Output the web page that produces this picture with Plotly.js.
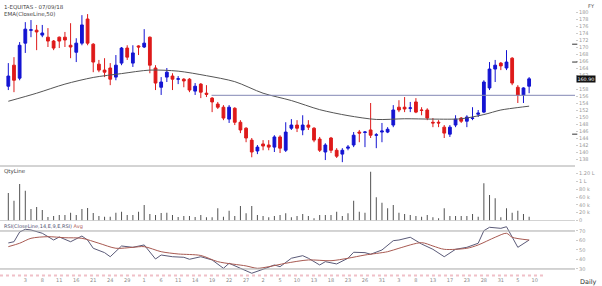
<!DOCTYPE html>
<html><head><meta charset="utf-8">
<script src="https://cdn.plot.ly/plotly-3.0.1.min.js"></script>
<style>html,body{margin:0;padding:0;background:#fff}#chart{width:602px;height:286px}</style>
</head><body><div id="chart"></div>
<script>
// ---- data (index = trading day) ----
const opens = [158.8,164.8,161.1,171.1,174.8,174.8,173.4,172.8,171.7,172.8,
172.8,170.5,168.5,171.1,178.0,170.8,165.1,163.4,164.0,161.4,
165.4,169.7,165.4,170.3,170.0,172.8,164.0,158.5,161.4,161.7,
160.8,160.8,160.8,157.4,159.4,156.8,155.4,153.7,152.8,149.4,
152.5,148.5,146.8,143.4,140.3,142.3,142.0,141.4,144.3,140.5,
146.8,147.7,146.3,147.7,146.8,143.7,140.0,144.0,140.5,139.4,
141.1,142.0,145.7,145.6,146.3,144.8,145.7,145.7,147.7,152.8,
152.8,152.5,154.3,152.0,152.0,148.5,148.5,147.1,145.1,147.7,
149.7,148.8,149.6,150.8,151.4,158.3,163.7,165.4,164.0,166.8,
158.5,156.3,158.8];
const highs = [165.4,167.1,171.4,177.1,177.7,176.3,176.3,175.4,172.0,173.0,
174.3,176.8,172.5,179.1,179.4,171.1,166.3,166.8,165.4,167.7,
170.0,170.5,170.5,170.5,175.1,173.0,164.8,161.4,164.0,162.5,
161.7,161.1,161.1,159.7,159.7,159.1,155.7,154.3,153.4,153.4,
152.8,149.1,147.1,144.0,142.0,143.4,143.4,144.8,144.8,148.5,
149.4,149.1,150.5,149.1,147.1,144.3,142.5,144.3,141.1,141.1,
142.0,145.7,146.3,146.0,154.0,145.4,148.3,147.1,153.4,154.8,
155.7,154.3,155.4,152.8,152.5,149.7,149.1,147.7,147.7,150.5,
150.0,150.5,152.8,152.0,160.5,165.7,166.3,165.7,169.1,167.1,
159.1,158.5,161.4];
const lows = [157.7,157.1,160.5,168.3,172.8,169.1,172.8,170.0,169.1,169.7,
170.0,166.8,165.7,170.5,170.5,162.8,162.8,161.4,159.1,160.5,
164.8,166.3,164.3,167.7,169.7,162.5,157.7,156.3,160.0,157.7,
159.4,158.5,157.1,156.3,155.4,155.7,151.4,152.3,149.1,148.3,
147.7,145.4,142.8,138.5,139.4,140.5,140.5,140.0,139.7,140.0,
146.3,145.7,144.8,146.3,142.8,140.0,137.7,139.7,138.3,137.1,
140.5,141.4,142.8,141.4,144.0,141.1,142.8,145.4,147.1,151.4,
151.4,151.4,151.1,150.5,149.1,147.1,147.1,144.0,144.3,147.1,
148.3,147.1,149.1,150.0,151.1,157.7,160.0,163.4,163.4,159.1,
154.0,154.0,156.8];
const closes = [161.7,160.5,170.5,175.1,174.9,174.3,174.0,171.7,169.7,171.7,
172.0,170.0,171.1,176.3,171.1,165.7,163.4,162.8,160.8,164.8,
169.7,167.1,168.3,170.0,171.1,164.8,159.7,160.0,162.8,160.8,
160.9,160.3,157.7,158.8,157.1,156.5,154.3,152.8,149.7,152.8,
148.5,146.3,144.0,140.0,141.4,141.7,141.4,144.3,141.1,145.7,
147.7,146.8,147.7,147.1,143.4,140.5,142.0,140.5,138.8,140.5,
141.4,144.8,145.4,145.7,144.8,144.9,146.0,146.5,152.0,152.0,
152.3,152.6,151.4,151.9,149.7,148.3,148.3,145.4,147.1,149.4,
148.8,150.0,149.7,151.1,160.0,163.7,164.8,164.6,165.7,159.7,
156.3,158.3,160.9];
// volume in thousands
const volumes = [70.5,50.8,93.6,76.4,29.5,34.6,26.9,9.0,11.5,14.1,
14.1,20.0,14.1,29.5,32.1,19.2,11.5,9.7,9.7,20.0,
22.6,14.1,14.1,22.6,39.7,16.7,14.1,19.2,20.0,14.1,
9.0,11.5,11.5,9.0,14.1,8.2,8.2,31.3,9.7,25.1,
11.5,37.2,18.5,37.2,14.1,11.5,8.2,11.5,14.1,18.5,
8.2,11.5,16.7,11.5,5.6,14.1,14.1,14.1,22.6,11.5,
18.5,50.8,22.6,20.0,125.1,59.5,45.6,31.3,39.7,20.0,
16.7,14.1,11.5,9.7,14.1,8.2,5.6,31.3,11.5,11.5,
11.5,11.5,16.7,9.7,95.4,65.4,56.9,8.2,31.3,20.0,
25.1,16.7,9.7];
const emaIdx = [0,5,10,15,20,25,30,35,40,45,50,55,60,65,70,75,80,84,87,90,92];
const emaVals = [154.5,156.8,159.4,161.3,162.4,163.4,163.1,161.8,160.1,156.8,154.7,152.1,150.4,149.3,149.5,149.4,149.5,150.7,152.0,152.7,153.1];
const rsiIdx = [0,1,2,3,4,6,8,9,11,13,14,15,17,18,20,22,24,26,27,29,31,32,34,36,38,39,41,43,45,47,48,50,52,53,55,56,58,60,61,63,64,66,68,69,71,73,75,77,79,81,83,84,85,87,88,90,92];
const rsiVals = [57.4,58.7,68.9,71.8,71.1,67.6,60.5,63.7,58.7,64.7,60.5,51.8,47.2,42.9,54.2,52.8,55.3,40.5,44.7,42.9,42.3,40.2,42.9,39.5,30.7,36.0,30.7,25.5,29.7,34.2,32.4,41.3,44.0,41.3,34.2,37.7,35.3,41.3,47.6,47.2,45.5,50.0,59.8,60.5,63.4,56.3,50.7,42.9,50.7,52.8,57.1,70.3,73.9,72.8,74.5,52.8,60.5];
const avgIdx = [0,2,4,7,10,13,16,19,22,24,27,30,34,37,42,44,46,49,53,57,60,63,67,69,73,75,77,81,83,86,88,89,92];
const avgVals = [53.5,57.1,62.3,64.0,62.9,62.3,57.1,51.8,52.8,53.5,48.2,45.8,44.2,37.7,33.2,30.7,32.4,36.0,39.5,38.7,41.3,44.7,48.2,51.8,57.7,54.2,50.7,51.8,55.3,63.4,67.6,63.4,60.5];
const dateTickIdx = [3,6,9,12,15,18,21,24,27,30,33,36,39,42,45,48,51,54,57,60,63,66,69,72,75,78,81,84,87,90,93];
const dateLabels = ["3","8","11","16","21","24","29","1","6","11","14","19","22","27","2","5","10","13","18","23","26","31","3","8","13","17","23","28","31","5","10"];
// 160 is hidden under the last-price box in the reference
const priceTicks = [138,140,142,144,146,148,150,152,154,156,158,162,164,166,168,170,172,174,176,178,180];
const volTicks = [0,20,40,60,80,100,120];
const volTickText = ["0","20 k","40 k","60 k","80 k","1 L","1.20 L"];
const rsiTicks = [30,40,50,60,70];
const rsiLevels = [70,30];
const supportLevel = 156.2;
const supportStartIdx = 35.9;
const alertLevels = [170.8,165.7,145.1];

// ---- layout helpers (pixel rows -> paper fractions, no margins top/bottom) ----
const H = 286;
const py = p => 1 - p / H;
const xRange = [-1.47, 100.1];
const idx = closes.map((_, i) => i);

const traces = [
  {type:'candlestick', x: idx, open: opens, high: highs, low: lows, close: closes,
   xaxis:'x', yaxis:'y', whiskerwidth:0, hoverinfo:'skip',
   increasing:{line:{color:'#1414d2', width:1}, fillcolor:'#1414d2'},
   decreasing:{line:{color:'#de1a1a', width:1}, fillcolor:'#de1a1a'}},
  {type:'scatter', mode:'lines', x: emaIdx, y: emaVals, xaxis:'x', yaxis:'y',
   line:{color:'#555', width:1, shape:'spline', smoothing:0.8}, hoverinfo:'skip'},
  {type:'bar', x: idx, y: volumes, xaxis:'x', yaxis:'y2', width:0.18,
   marker:{color:'#555', line:{width:0}}, hoverinfo:'skip'},
  {type:'scatter', mode:'lines', x: rsiIdx, y: rsiVals, xaxis:'x', yaxis:'y3',
   line:{color:'#5a5a78', width:1}, hoverinfo:'skip'},
  {type:'scatter', mode:'lines', x: avgIdx, y: avgVals, xaxis:'x', yaxis:'y3',
   line:{color:'#a85a52', width:1, shape:'spline', smoothing:0.8}, hoverinfo:'skip'}
];

const axisFont = {family:'DejaVu Sans', size:5, color:'#9a9a9a'};
const shapes = [
  {type:'line', xref:'paper', yref:'paper', x0:0, x1:1, y0:py(166), y1:py(166), line:{color:'#a8a8a8', width:1}},
  {type:'line', xref:'paper', yref:'y2', x0:0, x1:1, y0:0, y1:0, line:{color:'#a8a8a8', width:1}},
  {type:'line', xref:'x', yref:'y', x0:supportStartIdx, x1:xRange[1], y0:supportLevel, y1:supportLevel, line:{color:'#8288b4', width:1}},
  {type:'line', xref:'paper', yref:'paper', x0:0, x1:543/575, y0:py(275.5), y1:py(275.5), line:{color:'#f0c0c8', width:2, dash:'dot'}}
];
rsiLevels.forEach(l => shapes.push({type:'line', xref:'paper', yref:'y3', x0:0, x1:1, y0:l, y1:l, line:{color:'#a8a8a8', width:1}}));
alertLevels.forEach(l => shapes.push({type:'line', xref:'paper', yref:'y', x0:0.995, x1:1.004, y0:l, y1:l, line:{color:'#333', width:1}}));

const annFont = {family:'DejaVu Sans', size:5.5, color:'#444'};
const annotations = [
  {xref:'paper', yref:'paper', x:0.004, y:py(2), xanchor:'left', yanchor:'top', showarrow:false, text:'1-EQUITAS - 07/09/18', font:annFont},
  {xref:'paper', yref:'paper', x:0.004, y:py(9), xanchor:'left', yanchor:'top', showarrow:false, text:'EMA(CloseLine,50)', font:annFont},
  {xref:'paper', yref:'paper', x:0.004, y:py(166), xanchor:'left', yanchor:'top', showarrow:false, text:'QtyLine', font:annFont},
  {xref:'paper', yref:'paper', x:0.004, y:py(220.5), xanchor:'left', yanchor:'top', showarrow:false,
   text:'RSI(CloseLine,14,E,9,E,RSI) <span style="color:#b0605a">Avg</span>', font:{family:'DejaVu Sans', size:5, color:'#505070'}},
  {xref:'paper', yref:'paper', x:591/575, y:py(1), xanchor:'center', yanchor:'top', showarrow:false, text:'FY', font:{family:'DejaVu Sans', size:5, color:'#555'}},
  {xref:'paper', yref:'paper', x:588/575, y:py(282), xanchor:'center', yanchor:'middle', showarrow:false, text:'Daily', font:{family:'DejaVu Sans', size:6.5, color:'#333'}},
  {xref:'paper', yref:'y', x:1.002, y:closes[closes.length-1], xanchor:'left', yanchor:'middle', showarrow:false,
   text:closes[closes.length-1].toFixed(2), bgcolor:'#111', borderpad:0.5, font:{family:'DejaVu Sans', size:4.8, color:'#fff'}}
];

const layout = {
  width:602, height:286, margin:{l:0, r:27, t:0, b:0},
  paper_bgcolor:'#fff', plot_bgcolor:'#fff', showlegend:false,
  font:{family:'DejaVu Sans', size:5, color:'#999'},
  xaxis:{range:xRange, anchor:'free', position:py(276), tickmode:'array', tickvals:dateTickIdx, ticktext:dateLabels,
         showgrid:false, zeroline:false, showline:false, ticks:'', tickfont:{family:'DejaVu Sans', size:5, color:'#8a8a8a'},
         rangeslider:{visible:false}, fixedrange:true},
  yaxis:{domain:[py(165), py(3)], range:[136.29, 182.57], side:'right', anchor:'x', tickmode:'array', tickvals:priceTicks,
         showgrid:false, zeroline:false, showline:false, ticks:'outside', ticklen:2, tickcolor:'#ccc', tickfont:axisFont},
  yaxis2:{domain:[py(220.5), py(166)], range:[0, 139.7], side:'right', anchor:'x', tickmode:'array', tickvals:volTicks, ticktext:volTickText,
         showgrid:false, zeroline:false, showline:false, ticks:'outside', ticklen:2, tickcolor:'#ccc', tickfont:axisFont},
  yaxis3:{domain:[py(274), py(220.5)], range:[24.7, 81.05], side:'right', anchor:'x', tickmode:'array', tickvals:rsiTicks,
         showgrid:false, zeroline:false, showline:false, ticks:'outside', ticklen:2, tickcolor:'#ccc', tickfont:axisFont},
  shapes, annotations
};

Plotly.newPlot('chart', traces, layout, {staticPlot:true, displayModeBar:false});
</script>
</body></html>
